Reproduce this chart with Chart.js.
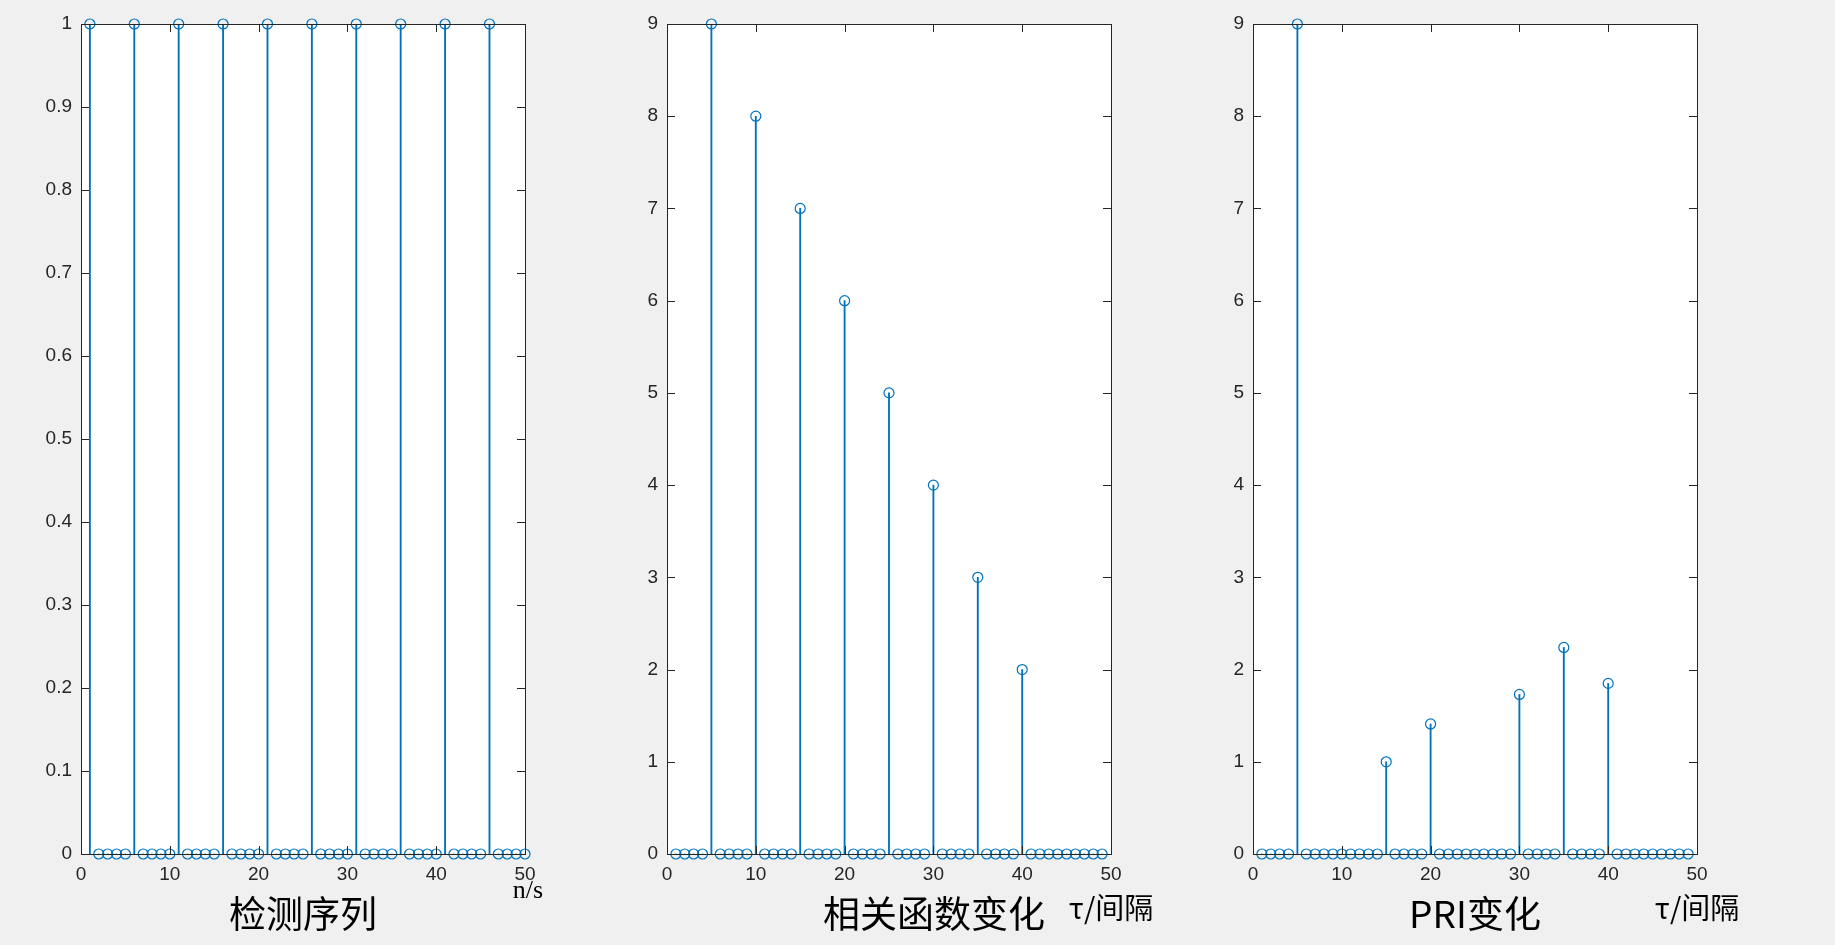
<!DOCTYPE html>
<html>
<head>
<meta charset="utf-8">
<title>stem</title>
<script src="https://cdn.jsdelivr.net/npm/chart.js@4.4.1/dist/chart.umd.min.js"></script>
<style>
  html, body { margin: 0; padding: 0; background: #f0f0f0; width: 1835px; height: 945px; overflow: hidden; }
  .box { position: absolute; top: 0; height: 945px; }
</style>
</head>
<body>
<div class="box" id="box1"><canvas id="chart1"></canvas></div>
<div class="box" id="box2"><canvas id="chart2"></canvas></div>
<div class="box" id="box3"><canvas id="chart3"></canvas></div>
<script>
// data
const nIndex = [1, 2, 3, 4, 5, 6, 7, 8, 9, 10, 11, 12, 13, 14, 15, 16, 17, 18, 19, 20,
  21, 22, 23, 24, 25, 26, 27, 28, 29, 30, 31, 32, 33, 34, 35, 36, 37, 38, 39, 40,
  41, 42, 43, 44, 45, 46, 47, 48, 49, 50];
const detectSeq = [1, 0, 0, 0, 0, 1, 0, 0, 0, 0, 1, 0, 0, 0, 0, 1, 0, 0, 0, 0,
  1, 0, 0, 0, 0, 1, 0, 0, 0, 0, 1, 0, 0, 0, 0, 1, 0, 0, 0, 0,
  1, 0, 0, 0, 0, 1, 0, 0, 0, 0];

const tauIndex = [1, 2, 3, 4, 5, 6, 7, 8, 9, 10, 11, 12, 13, 14, 15, 16, 17, 18, 19, 20,
  21, 22, 23, 24, 25, 26, 27, 28, 29, 30, 31, 32, 33, 34, 35, 36, 37, 38, 39, 40,
  41, 42, 43, 44, 45, 46, 47, 48, 49];
const corrValues = [0, 0, 0, 0, 9, 0, 0, 0, 0, 8, 0, 0, 0, 0, 7, 0, 0, 0, 0, 6,
  0, 0, 0, 0, 5, 0, 0, 0, 0, 4, 0, 0, 0, 0, 3, 0, 0, 0, 0, 2,
  0, 0, 0, 0, 0, 0, 0, 0, 0];
const priValues = [0, 0, 0, 0, 9, 0, 0, 0, 0, 0, 0, 0, 0, 0, 1, 0, 0, 0, 0, 1.41,
  0, 0, 0, 0, 0, 0, 0, 0, 0, 1.73, 0, 0, 0, 0, 2.24, 0, 0, 0, 0, 1.85,
  0, 0, 0, 0, 0, 0, 0, 0, 0];

const xTicks = [0, 10, 20, 30, 40, 50];
const yTicksSeq = [0, 0.1, 0.2, 0.3, 0.4, 0.5, 0.6, 0.7, 0.8, 0.9, 1];
const yTicksCount = [0, 1, 2, 3, 4, 5, 6, 7, 8, 9];

const titles = ["检测序列", "相关函数变化", "PRI变化"];
const unitLabels = ["n/s", "τ/间隔", "τ/间隔"];

const BLUE = "#0072bd";
const AXIS = "#262626";
const TICK_LEN = 8;
const AXIS_W = 62;
const PAD_R = 60;
const PLOT_TOP = 24;
const PLOT_BOTTOM = 854;
const PLOT_W = 444;
const plotLefts = [81, 667, 1253];

const framePlugin = {
  id: "frame",
  beforeDraw(chart) {
    const a = chart.chartArea;
    const ctx = chart.ctx;
    ctx.save();
    ctx.fillStyle = "#ffffff";
    ctx.fillRect(a.left, a.top, a.right - a.left, a.bottom - a.top);
    ctx.restore();
  },
  afterDatasetsDraw(chart) {
    const a = chart.chartArea;
    const ctx = chart.ctx;
    const xs = chart.scales.x;
    const ys = chart.scales.y;
    ctx.save();
    ctx.strokeStyle = AXIS;
    ctx.lineWidth = 1;
    ctx.beginPath();
    xs.ticks.forEach((t) => {
      const px = Math.round(xs.getPixelForValue(t.value)) + 0.5;
      ctx.moveTo(px, a.bottom);
      ctx.lineTo(px, a.bottom - TICK_LEN);
      ctx.moveTo(px, a.top);
      ctx.lineTo(px, a.top + TICK_LEN);
    });
    ys.ticks.forEach((t) => {
      const py = Math.round(ys.getPixelForValue(t.value)) + 0.5;
      ctx.moveTo(a.left, py);
      ctx.lineTo(a.left + TICK_LEN, py);
      ctx.moveTo(a.right, py);
      ctx.lineTo(a.right - TICK_LEN, py);
    });
    ctx.stroke();
    ctx.strokeRect(Math.round(a.left) + 0.5, Math.round(a.top) + 0.5,
      Math.round(a.right - a.left), Math.round(a.bottom - a.top));
    ctx.restore();
  },
  afterDraw(chart, args, opts) {
    const a = chart.chartArea;
    const ctx = chart.ctx;
    ctx.save();
    ctx.textAlign = "center";
    ctx.textBaseline = "middle";
    ctx.fillStyle = "#000000";
    (opts.labels || []).forEach((l) => {
      ctx.font = l.font;
      const cx = l.from === "right" ? a.right + l.dx : (a.left + a.right) / 2 + l.dx;
      ctx.fillText(l.text, cx, l.y);
    });
    ctx.restore();
  },
};

function makeStem(canvasId, boxId, idx, xs, ys, yMax, yStep, yTicks, labels) {
  const box = document.getElementById(boxId);
  box.style.left = plotLefts[idx] - AXIS_W + "px";
  box.style.width = AXIS_W + PLOT_W + PAD_R + "px";

  const points = xs.map((x, i) => ({ x: x, y: ys[i] }));
  const tickFont = { family: "'Liberation Sans', Arial, sans-serif", size: 19 };

  return new Chart(document.getElementById(canvasId), {
    type: "bar",
    data: {
      datasets: [
        {
          type: "scatter",
          data: points,
          showLine: false,
          pointRadius: 5,
          pointBorderWidth: 1.2,
          pointBorderColor: BLUE,
          pointBackgroundColor: "rgba(0,0,0,0)",
          clip: false,
        },
        {
          type: "bar",
          data: points,
          backgroundColor: BLUE,
          borderWidth: 0,
          barThickness: 1.2,
        },
      ],
    },
    options: {
      responsive: true,
      maintainAspectRatio: false,
      animation: false,
      events: [],
      layout: { autoPadding: false, padding: { top: PLOT_TOP, right: PAD_R, left: 0, bottom: 0 } },
      plugins: {
        legend: { display: false },
        tooltip: { enabled: false },
        frame: { labels: labels },
      },
      scales: {
        x: {
          type: "linear",
          min: 0,
          max: 50,
          offset: false,
          grid: { display: false, drawTicks: false },
          border: { display: false },
          afterBuildTicks: (s) => { s.ticks = xTicks.map((v) => ({ value: v })); },
          afterFit: (s) => { s.height = 945 - PLOT_BOTTOM; },
          ticks: { padding: 9, color: AXIS, font: tickFont, maxRotation: 0, autoSkip: false },
        },
        y: {
          type: "linear",
          min: 0,
          max: yMax,
          grid: { display: false, drawTicks: false },
          border: { display: false },
          afterBuildTicks: (s) => { s.ticks = yTicks.map((v) => ({ value: v })); },
          afterFit: (s) => { s.width = AXIS_W; },
          ticks: {
            padding: 9,
            color: AXIS,
            font: tickFont,
            autoSkip: false,
            callback: (v) => String(Math.round(v * 100) / 100),
          },
        },
      },
    },
    plugins: [framePlugin],
  });
}

const titleFont = "37px 'Noto Sans CJK SC', 'Noto Sans', sans-serif";
const unitFont = "29px 'Noto Sans CJK SC', 'Noto Sans', sans-serif";

makeStem("chart1", "box1", 0, nIndex, detectSeq, 1, 0.1, yTicksSeq, [
  { text: titles[0], font: titleFont, from: "center", dx: 0, y: 914 },
  { text: unitLabels[0], font: "26px 'Liberation Serif', 'Times New Roman', serif", from: "right", dx: 3, y: 891 },
]);
makeStem("chart2", "box2", 1, tauIndex, corrValues, 9, 1, yTicksCount, [
  { text: titles[1], font: titleFont, from: "center", dx: 45, y: 914 },
  { text: unitLabels[1], font: unitFont, from: "right", dx: 0, y: 908 },
]);
makeStem("chart3", "box3", 2, tauIndex, priValues, 9, 1, yTicksCount, [
  { text: titles[2], font: titleFont, from: "center", dx: 0, y: 914 },
  { text: unitLabels[2], font: unitFont, from: "right", dx: 0, y: 908 },
]);
</script>
</body>
</html>
